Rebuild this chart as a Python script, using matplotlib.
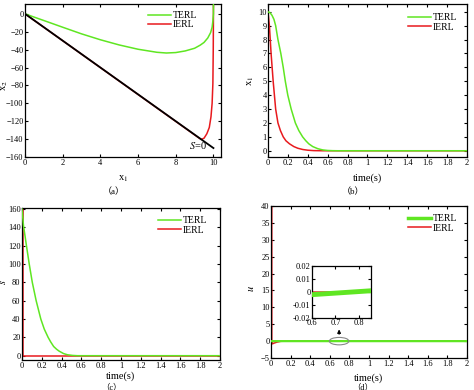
import matplotlib
matplotlib.use('Agg')
import matplotlib.pyplot as plt
from matplotlib.patches import Ellipse

plt.rcParams['font.family'] = ['Liberation Serif', 'Noto Sans CJK SC']
plt.rcParams['mathtext.fontset'] = 'stix'
plt.rcParams['font.size'] = 6
plt.rcParams['xtick.direction'] = 'in'
plt.rcParams['ytick.direction'] = 'in'
plt.rcParams['xtick.top'] = True
plt.rcParams['ytick.right'] = True
plt.rcParams['xtick.major.size'] = 2.2
plt.rcParams['ytick.major.size'] = 2.2
plt.rcParams['xtick.major.pad'] = 1.5
plt.rcParams['ytick.major.pad'] = 1

VERDE = '#5fe622'
ROJO = '#e81a1e'

# (a) plano de fase x1-x2
terl_x1 = [0, 0.5, 1, 2, 3, 4, 5, 6, 7, 7.5, 8, 8.5, 9, 9.3, 9.5, 9.7, 9.85, 9.93, 9.97, 10, 10]
terl_x2 = [0, -3.8, -7.5, -15, -22.4, -29, -34.8, -39.6, -43, -43.8, -43.3, -41.5, -38.5, -35, -32,
           -27, -21, -15, -8, 0, 11]
ierl_x1 = [10, 10, 9.99, 9.97, 9.93, 9.87, 9.78, 9.65, 9.5, 9.35, 9.25, 0]
ierl_x2 = [11, 0, -40, -78, -100, -115, -127, -134, -139, -140.3, -139, 0]
sup_x1 = [0, 10]
sup_x2 = [0, -150]

# (b) x1 vs tiempo
t_b_terl = [0, 0.02, 0.04, 0.06, 0.077, 0.1, 0.129, 0.153, 0.174, 0.199, 0.233, 0.275, 0.31,
            0.348, 0.38, 0.41, 0.45, 0.5, 0.55, 0.6, 0.65, 0.7, 2]
x1_terl = [10, 9.93, 9.75, 9.45, 9, 8, 7, 6, 5, 4, 3, 2, 1.45, 1, 0.72, 0.5, 0.3, 0.15, 0.06,
           0.02, 0.005, 0, 0]
t_b_ierl = [0, 0.014, 0.031, 0.052, 0.077, 0.1, 0.125, 0.153, 0.18, 0.216, 0.26, 0.3, 0.35,
            0.4, 0.46, 0.55, 2]
x1_ierl = [10, 9, 7, 5, 3, 2, 1.45, 1, 0.72, 0.5, 0.3, 0.18, 0.09, 0.04, 0.01, 0, 0]

# (c) s vs tiempo
t_c_terl = [0, 0.015, 0.045, 0.073, 0.104, 0.143, 0.19, 0.225, 0.264, 0.29, 0.32, 0.35, 0.375,
            0.42, 0.46, 0.51, 0.56, 2]
s_terl = [160, 142, 120, 100, 80, 60, 40, 29, 20, 15, 10, 7, 5, 2.3, 1, 0.3, 0, 0]
t_c_ierl = [0.008, 0.008, 2]
s_ierl = [160, 0, 0]

# (d) u vs tiempo
t_d_terl = [0, 0.6, 0.85, 2]
u_terl = [0, -0.002, 0.001, 0.001]
t_d_ierl = [0.008, 0.008, 0.015, 0.03, 0.06, 0.1, 0.15, 0.63, 2]
u_ierl = [40, 0, -0.8, -0.6, -0.3, -0.05, 0, 0, 0]

TICKS_T = [0, 0.2, 0.4, 0.6, 0.8, 1, 1.2, 1.4, 1.6, 1.8, 2]
ETIQ_T = ['0', '0.2', '0.4', '0.6', '0.8', '1', '1.2', '1.4', '1.6', '1.8', '2']

fig = plt.figure(figsize=(4.74, 3.9), dpi=100)


def caja(ax):
    for sp in ax.spines.values():
        sp.set_linewidth(0.9)


def leyenda(ax, x, y, lw_verde=1.1):
    l1, = ax.plot([], [], color=VERDE, lw=lw_verde, label='TERL')
    l2, = ax.plot([], [], color=ROJO, lw=1.1, label='IERL')
    ax.legend(handles=[l1, l2], loc='upper right', bbox_to_anchor=(x, y), frameon=False,
              fontsize=7, handlelength=2.3, handletextpad=0.2, labelspacing=0.05,
              borderaxespad=0, borderpad=0)


# (a)
ax1 = fig.add_axes([0.0527, 0.5974, 0.4135, 0.392])
ax1.plot(ierl_x1, ierl_x2, color=ROJO, lw=1.1, zorder=2)
ax1.plot(terl_x1, terl_x2, color=VERDE, lw=1.1, zorder=3)
ax1.plot(sup_x1, sup_x2, color='black', lw=1.3, zorder=4)
leyenda(ax1, 0.878, 0.955)
ax1.text(9.2, -147, r'$S$=0', fontsize=7.5, ha='center', va='center')
ax1.set_xlim(0, 10.4)
ax1.set_ylim(-160, 10.8)
ax1.set_xticks(range(0, 11, 2))
ax1.set_yticks(range(-160, 1, 20))
ax1.set_xlabel('x$_1$', fontsize=7.5)
ax1.set_ylabel('x$_2$', fontsize=7.5)
ax1.xaxis.set_label_coords(0.5, -0.105)
ax1.yaxis.set_label_coords(-0.077, 0.47)
caja(ax1)
fig.text(114 / 474, 1 - 192 / 390, '（a）', ha='center', va='center', fontsize=6.5)

# (b)
ax2 = fig.add_axes([0.5654, 0.5974, 0.4198, 0.392])
ax2.plot(t_b_ierl, x1_ierl, color=ROJO, lw=1.1, zorder=2)
ax2.plot(t_b_terl, x1_terl, color=VERDE, lw=1.1, zorder=3)
leyenda(ax2, 0.95, 0.94)
ax2.set_xlim(0, 2)
ax2.set_ylim(-0.45, 10.55)
ax2.set_xticks(TICKS_T)
ax2.set_xticklabels(ETIQ_T)
ax2.set_yticks(range(0, 11))
ax2.set_xlabel('time(s)', fontsize=7.5)
ax2.set_ylabel('x$_1$', fontsize=7.5)
ax2.xaxis.set_label_coords(0.5, -0.105)
ax2.yaxis.set_label_coords(-0.062, 0.5)
caja(ax2)
fig.text(353 / 474, 1 - 192 / 390, '（b）', ha='center', va='center', fontsize=6.5)

# (c)
ax3 = fig.add_axes([0.0464, 0.0769, 0.4177, 0.3897])
ax3.plot(t_c_ierl, s_ierl, color=ROJO, lw=1.1, zorder=2)
ax3.plot(t_c_terl, s_terl, color=VERDE, lw=1.1, zorder=3)
leyenda(ax3, 0.934, 0.947)
ax3.set_xlim(0, 2)
ax3.set_ylim(-4.7, 161)
ax3.set_xticks(TICKS_T)
ax3.set_xticklabels(ETIQ_T)
ax3.set_yticks(range(0, 161, 20))
ax3.set_xlabel('time(s)', fontsize=7.5)
ax3.set_ylabel('$s$', fontsize=7.5)
ax3.xaxis.set_label_coords(0.5, -0.078)
ax3.yaxis.set_label_coords(-0.072, 0.51)
caja(ax3)
fig.text(111 / 474, 1 - 387.5 / 390, '（c）', ha='center', va='center', fontsize=6)

# (d)
ax4 = fig.add_axes([0.5717, 0.082, 0.4135, 0.3897])
ax4.plot(t_d_ierl, u_ierl, color=ROJO, lw=1.1, zorder=2)
ax4.plot(t_d_terl, u_terl, color=VERDE, lw=1.6, zorder=3)
leyenda(ax4, 0.949, 0.947, lw_verde=2.5)
ax4.add_patch(Ellipse((0.695, 0), 0.2, 2.2, fill=False, edgecolor='#888888', lw=0.8, zorder=5))
ax4.annotate('', xy=(0.695, 4.3), xytext=(0.695, 1.2),
             arrowprops=dict(arrowstyle='-|>', color='black', lw=0.8, mutation_scale=5))
ax4.set_xlim(0, 2)
ax4.set_ylim(-5, 40)
ax4.set_xticks(TICKS_T)
ax4.set_xticklabels(ETIQ_T)
ax4.set_yticks(range(-5, 41, 5))
ax4.set_xlabel('time(s)', fontsize=7.5)
ax4.set_ylabel('$u$', fontsize=7.5)
ax4.xaxis.set_label_coords(0.5, -0.1)
ax4.yaxis.set_label_coords(-0.078, 0.46)
caja(ax4)
fig.text(363 / 474, 1 - 387.5 / 390, '（d）', ha='center', va='center', fontsize=6)

# recuadro ampliado
axi = fig.add_axes([0.658, 0.1846, 0.1245, 0.133])
axi.plot(t_d_ierl, u_ierl, color=ROJO, lw=1.1, zorder=2)
axi.plot(t_d_terl, u_terl, color=VERDE, lw=3.5, zorder=3)
axi.set_xlim(0.6, 0.85)
axi.set_ylim(-0.02, 0.02)
axi.set_xticks([0.6, 0.7, 0.8])
axi.set_xticklabels(['0.6', '0.7', '0.8'])
axi.set_yticks([-0.02, -0.01, 0, 0.01, 0.02])
axi.set_yticklabels(['-0.02', '-0.01', '0', '0.01', '0.02'])
axi.tick_params(labelsize=6, length=2, pad=1)
caja(axi)

fig.savefig('out.png', dpi=100)
